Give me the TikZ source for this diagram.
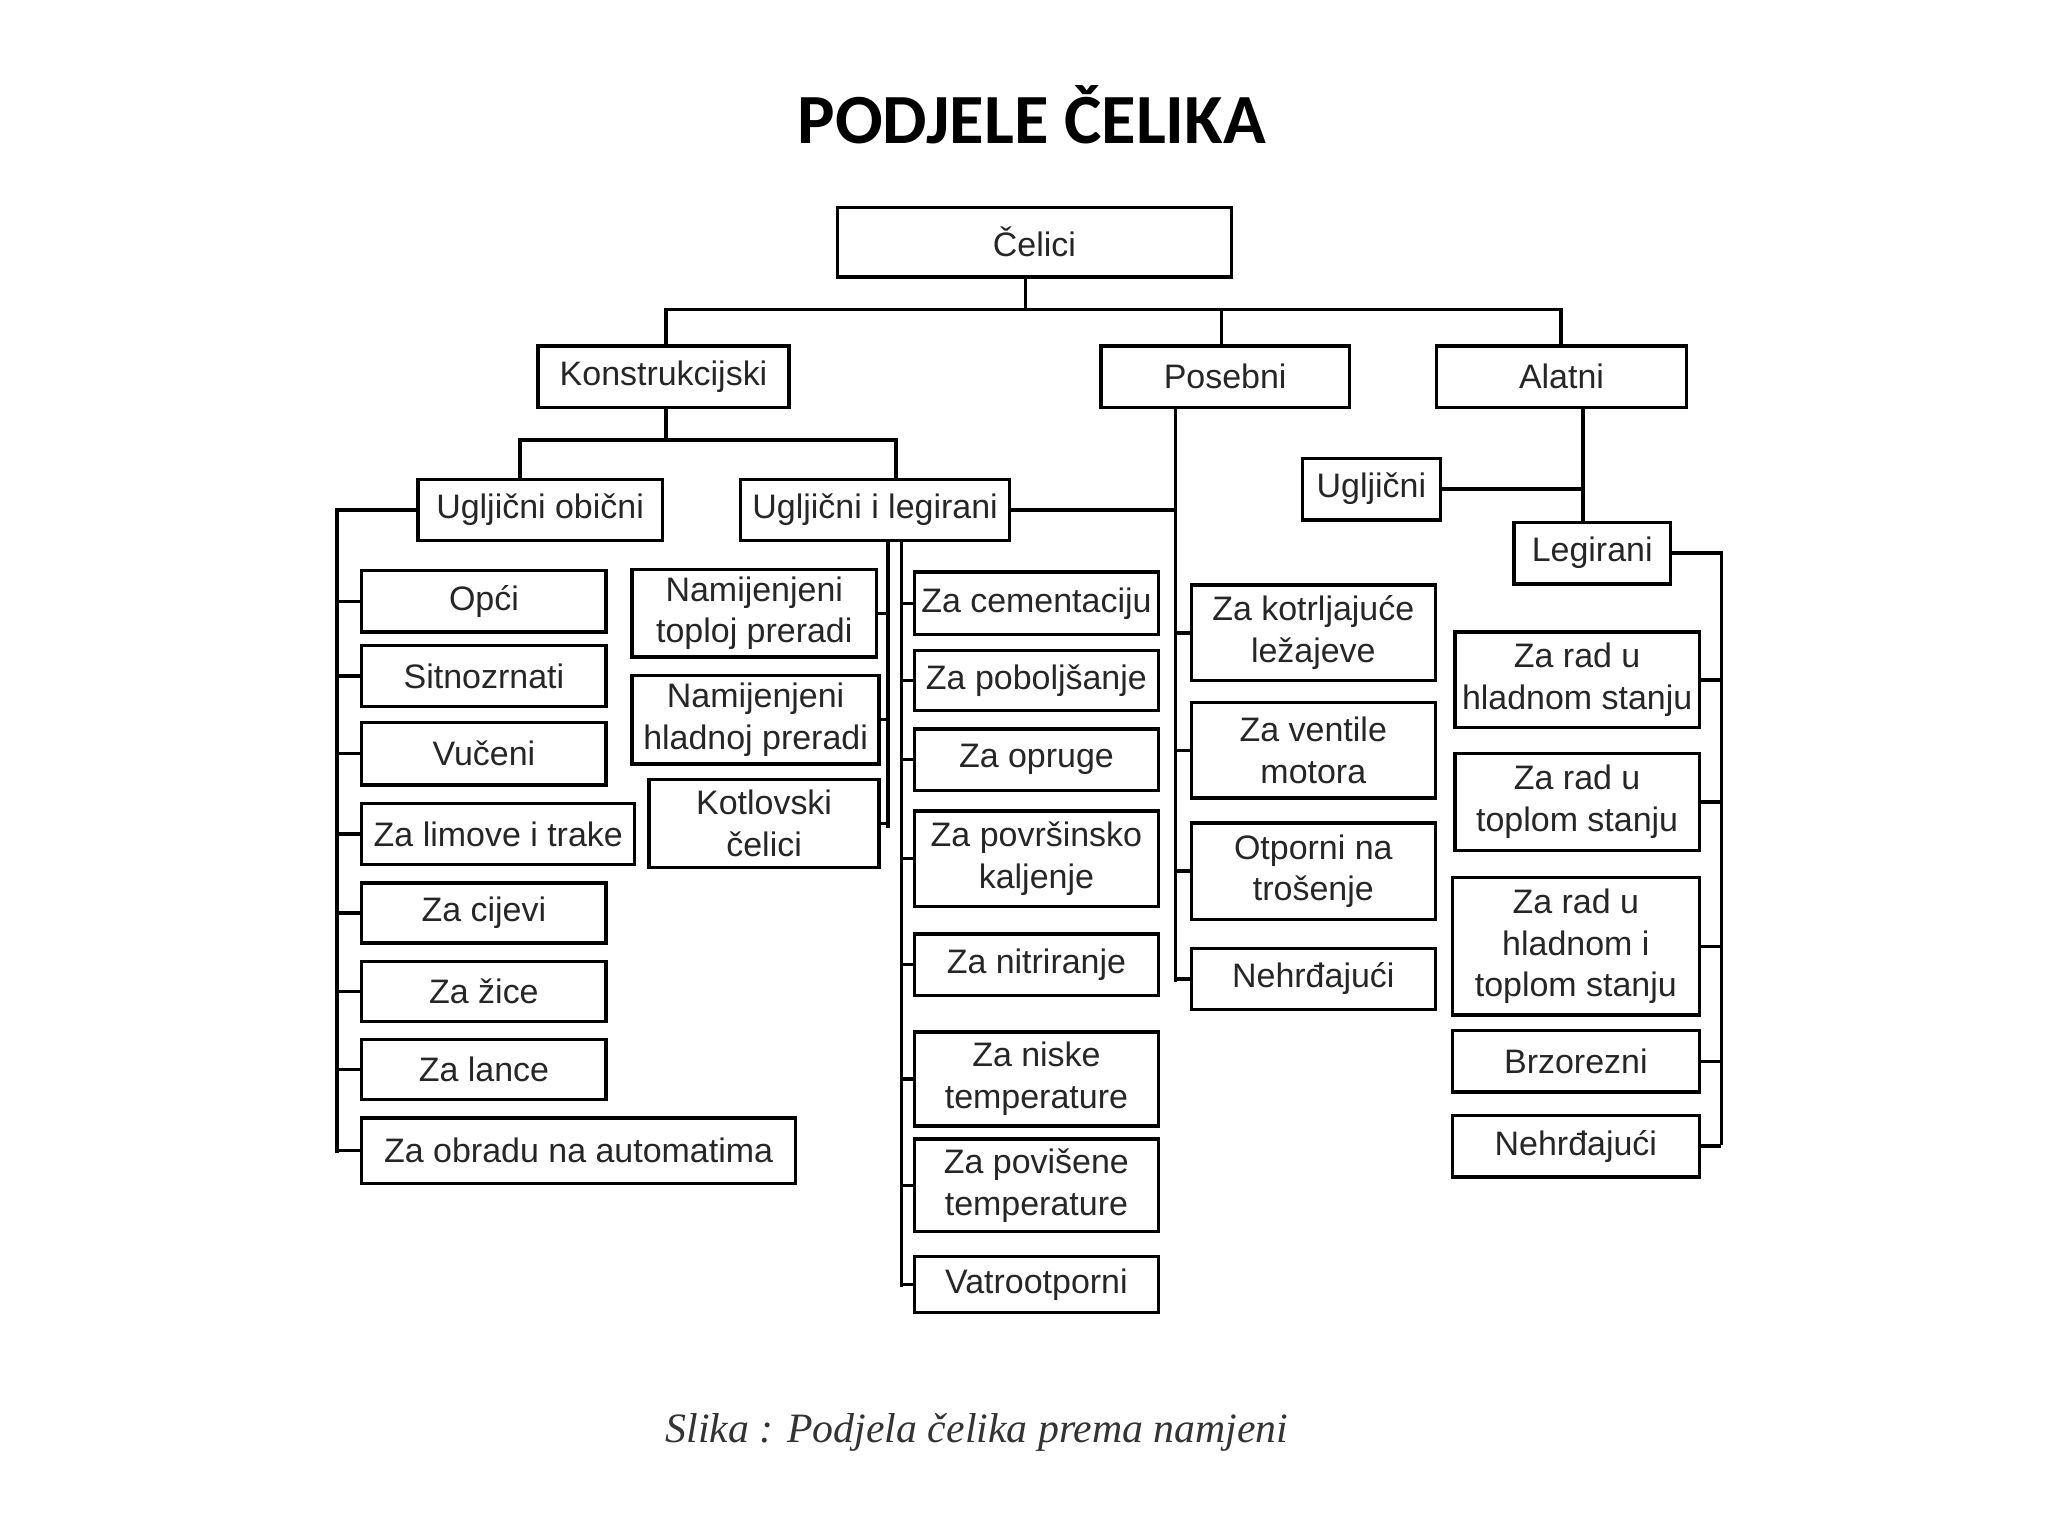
\documentclass[tikz,border=0pt]{standalone}
\usepackage{fontspec}
\setmainfont{Liberation Sans}
\newfontfamily\titlefont{Carlito}
\newfontfamily\capfont{Liberation Serif}
\begin{document}
\begin{tikzpicture}[x=0.5pt,y=-0.5pt,
  box/.style={draw,line width=1.3pt,inner sep=0pt,align=center,font=\fontsize{13}{16}\selectfont,text=black!85},
  ln/.style={line width=1.3pt}]
\useasboundingbox (0,0) rectangle (1568,1176);
\newcommand\bx[6]{\node[box,minimum width={(#4-#2)*0.5pt},minimum height={(#5-#3)*0.5pt}] (#1) at ({(#2+#4)/2},{(#3+#5)/2}) {#6};}
\node[font=\titlefont\bfseries\fontsize{27}{30}\selectfont] (title) at (790,88) {PODJELE ČELIKA};
\bx{cel}{641}{159}{943}{212}{Čelici}
\bx{ko}{412}{265}{604}{312}{Konstrukcijski}
\bx{po}{843}{265}{1033}{312}{Posebni}
\bx{al}{1100}{265}{1291}{312}{Alatni}
\bx{uo}{320}{367}{507}{414}{Ugljični obični}
\bx{ul}{567}{367}{773}{414}{Ugljični i legirani}
\bx{a1}{277}{437}{464}{484}{Opći}
\bx{a2}{277}{494}{464}{541}{Sitnozrnati}
\bx{a3}{277}{553}{464}{601}{Vučeni}
\bx{a4}{277}{615}{486}{662}{Za limove i trake}
\bx{a5}{277}{676}{464}{722}{Za cijevi}
\bx{a6}{277}{736}{464}{782}{Za žice}
\bx{a7}{277}{796}{464}{842}{Za lance}
\bx{a8}{277}{856}{609}{906}{Za obradu na automatima}
\bx{b1}{484}{436}{671}{503}{Namijenjeni\\toploj preradi}
\bx{b2}{484}{517}{673}{585}{Namijenjeni\\hladnoj preradi}
\bx{b3}{497}{597}{673}{664}{Kotlovski\\čelici}
\bx{c1}{700}{438}{887}{486}{Za cementaciju}
\bx{c2}{700}{498}{887}{544}{Za poboljšanje}
\bx{c3}{700}{558}{887}{605}{Za opruge}
\bx{c4}{700}{621}{887}{694}{Za površinsko\\kaljenje}
\bx{c5}{700}{715}{887}{762}{Za nitriranje}
\bx{c6}{700}{790}{887}{862}{Za niske\\temperature}
\bx{c7}{700}{872}{887}{943}{Za povišene\\temperature}
\bx{c8}{700}{962}{887}{1005}{Vatrootporni}
\bx{d1}{912}{448}{1099}{521}{Za kotrljajuće\\ležajeve}
\bx{d2}{912}{538}{1099}{611}{Za ventile\\motora}
\bx{d3}{912}{630}{1099}{704}{Otporni na\\trošenje}
\bx{d4}{912}{726}{1099}{773}{Nehrđajući}
\bx{au}{997}{351}{1103}{398}{Ugljični}
\bx{alg}{1159}{400}{1279}{447}{Legirani}
\bx{e1}{1114}{484}{1301}{557}{Za rad u\\hladnom stanju}
\bx{e2}{1114}{577}{1301}{651}{Za rad u\\toplom stanju}
\bx{e3}{1112}{672}{1301}{777}{Za rad u\\hladnom i\\toplom stanju}
\bx{e4}{1112}{789}{1301}{836}{Brzorezni}
\bx{e5}{1112}{854}{1301}{901}{Nehrđajući}
\node[font=\capfont\itshape\fontsize{16}{19}\selectfont,text=black!80] (cap) at (748,1097) {Slika : Podjela čelika prema namjeni};
% top bus
\coordinate (t1) at (785,237);
\draw[ln] (cel.south -| t1) -- (t1);
\draw[ln] (ko.north -| 510,0) -- (510,237) -- (1195,237) -- (al.north -| 1195,0);
\draw[ln] (935,237) -- (po.north -| 935,0);
% konstrukcijski
\draw[ln] (ko.south -| 510,0) -- (510,337);
\draw[ln] (uo.north -| 398,0) -- (398,337) -- (686,337) -- (ul.north -| 686,0);
% ugljicni obicni bus
\coordinate (lb) at (258,883);
\draw[ln] (uo.west) -- (uo.west -| lb) -- (lb);
\foreach \n in {a1,a2,a3,a4,a5,a6,a7,a8} \draw[ln] (\n.west -| lb) -- (\n.west);
% ugljicni i legirani
\coordinate (mb) at (680,634);
\draw[ln] (ul.south -| mb) -- (mb);
\foreach \n in {b1,b2,b3} \draw[ln] (\n.east) -- (\n.east -| mb);
\coordinate (rb) at (690,985);
\draw[ln] (ul.south -| rb) -- (rb);
\foreach \n in {c1,c2,c3,c4,c5,c6,c7,c8} \draw[ln] (\n.west -| rb) -- (\n.west);
% posebni
\coordinate (pb) at (900,752);
\draw[ln] (po.south -| pb) -- (pb);
\draw[ln] (ul.east) -- (ul.east -| pb);
\foreach \n in {d1,d2,d3,d4} \draw[ln] (\n.west -| pb) -- (\n.west);
% alatni
\draw[ln] (al.south -| 1212,0) -- (alg.north -| 1212,0);
\draw[ln] (au.east) -- (au.east -| 1212,0);
\coordinate (eb) at (1318,877);
\draw[ln] (alg.east) -- (alg.east -| eb) -- (eb);
\foreach \n in {e1,e2,e3,e4,e5} \draw[ln] (\n.east) -- (\n.east -| eb);
\end{tikzpicture}
\end{document}
